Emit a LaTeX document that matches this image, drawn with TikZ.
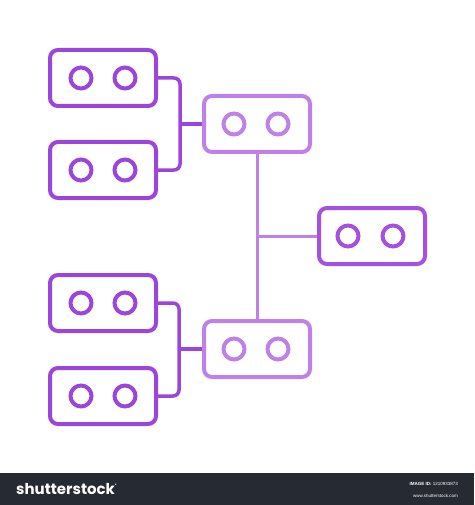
\documentclass[tikz,border=0pt]{standalone}
\usepackage{fontspec}
\newfontfamily\logofont{Poppins}
\newfontfamily\smallfont{Liberation Sans}
\usetikzlibrary{positioning}
\definecolor{deeppurple}{HTML}{9B45DB}
\definecolor{midpurple}{HTML}{A650E0}
\definecolor{lightpurple}{HTML}{BF80E8}
\definecolor{barbg}{HTML}{262A33}
\tikzset{
  box1/.style = {
    shape = rectangle,
    draw = deeppurple,
    line width = 4pt,
    rounded corners = 8pt,
    minimum width = 106pt,
    minimum height = 56pt,
  }
}
\tikzset{
  dot1/.style = {
    shape = circle,
    draw = deeppurple,
    line width = 4pt,
    minimum size = 21pt,
    inner sep = 0pt,
  }
}
\tikzset{
  link1/.style = {
    draw = deeppurple, line width = 3.5pt, rounded corners = 6pt,
  }
}

\begin{document}
\begin{tikzpicture}[x=1pt, y=-1pt]
            \useasboundingbox (0,0) rectangle (474,505);
            % left boxes
            \node[box1](l1) at (103,78){};
            \node[box1, below=32pt of l1](l2){};
            \node[box1](l3) at (103,303){};
            \node[box1, below=33pt of l3](l4){};
            % middle and right boxes
            \node[box1, draw = lightpurple](m1) at (257,124){};
            \node[box1, draw = lightpurple](m2) at (257,349){};
            \node[box1, draw = midpurple](r) at (372,236){};
            % dots
            \foreach \b in {l1, l2, l3, l4} {
              \node[dot1](\b a) at ([xshift=-22pt]\b.center){};
              \node[dot1](\b b) at ([xshift=22pt]\b.center){};
            }
            \foreach \b in {m1, m2} {
              \node[dot1, draw = lightpurple](\b a) at ([xshift=-23pt]\b.center){};
              \node[dot1, draw = lightpurple](\b b) at ([xshift=21pt]\b.center){};
            }
            \node[dot1, draw = midpurple](ra) at ([xshift=-24pt]r.center){};
            \node[dot1, draw = midpurple](rb) at ([xshift=21pt]r.center){};
            % connectors
            \coordinate (j1) at (180,124);
            \coordinate (j2) at (179,349);
            \draw[link1](l1.east) -| (j1) |- (l2.east);
            \draw[link1](j1) -- (m1.west);
            \draw[link1](l3.east) -| (j2) |- (l4.east);
            \draw[link1](j2) -- (m2.west);
            \draw[link1, draw = lightpurple, line width = 3pt](m1.south) -- (m2.north);
            \draw[link1, draw = lightpurple, line width = 3pt](m1.south |- r.west) -- (r.west);
            % bottom bar
            \fill[barbg] (0,473) rectangle (474,505);
            \node[anchor = west, text = white, inner sep = 0pt](logo) at (16,489)
              {\logofont\bfseries\fontsize{15}{15}\selectfont shutterstock\raisebox{1ex}{\fontsize{3.5}{4}\selectfont ®}};
            \node[anchor = north east, text = white, inner sep = 0pt, align = right](imgid) at (458,482)
              {\smallfont\fontsize{4.5}{6}\selectfont \textbf{IMAGE ID:} 1210933873\\ \smallfont\fontsize{4.5}{6}\selectfont www.shutterstock.com};
        \end{tikzpicture}
\end{document}
